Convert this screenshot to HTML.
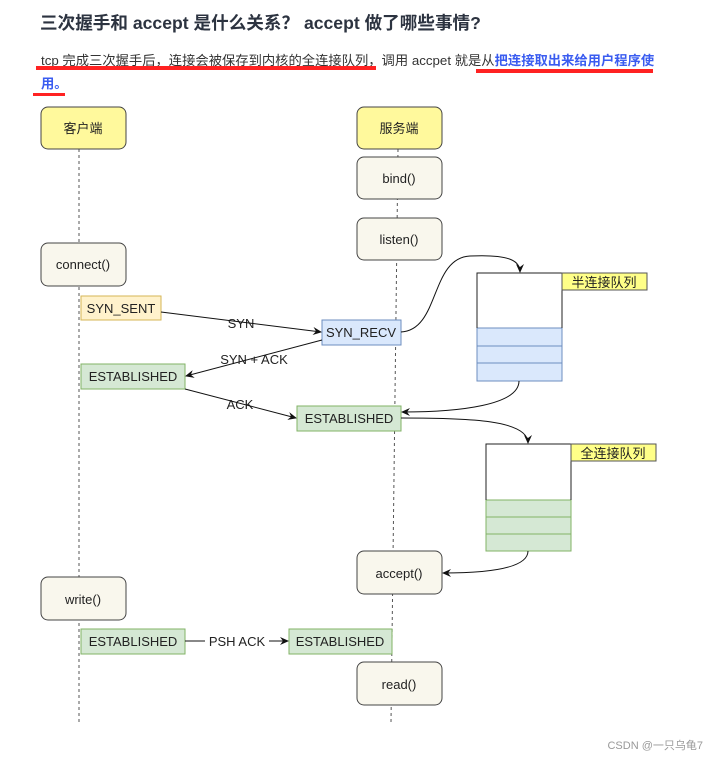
<!DOCTYPE html>
<html><head><meta charset="utf-8"><style>
body{margin:0;background:#fff;width:713px;height:758px;overflow:hidden;font-family:"Liberation Sans","Noto Sans CJK SC",sans-serif}
svg{position:absolute;left:0;top:0}
</style></head><body>
<svg width="713" height="758" xmlns="http://www.w3.org/2000/svg" font-family="Liberation Sans, Noto Sans CJK SC, sans-serif">
<defs><marker id="a" markerWidth="10" markerHeight="10" refX="8" refY="5" orient="auto" markerUnits="userSpaceOnUse"><path d="M0,1 L9,5 L0,9 L3,5z" fill="#111"/></marker></defs>
<text x="40" y="29" font-size="17.6" font-weight="bold" fill="#2c3340">三次握手和 accept 是什么关系？ accept 做了哪些事情?</text>
<text x="41" y="65" font-size="13.3" fill="#333">tcp 完成三次握手后，连接会被保存到内核的全连接队列，调用 accpet 就是从<tspan fill="#3a5cf0" font-weight="bold">把连接取出来给用户程序使</tspan></text>
<text x="41" y="88" font-size="13.3" fill="#3a5cf0" font-weight="bold">用。</text>
<rect x="36" y="66" width="340" height="4" fill="#f22"/>
<rect x="476" y="69" width="177" height="4" fill="#f22"/>
<rect x="33" y="93" width="32" height="3" fill="#f22"/>
<g stroke="#555" stroke-dasharray="3,3" stroke-width="1"><line x1="79" y1="149" x2="79" y2="722"/><line x1="398" y1="149" x2="391" y2="722"/></g>
<g stroke="#444" font-size="13" text-anchor="middle">
<rect x="41" y="107" width="85" height="42" rx="7" fill="#fff99c"/>
<rect x="357" y="107" width="85" height="42" rx="7" fill="#fff99c"/>
<rect x="357" y="157" width="85" height="42" rx="7" fill="#f9f7ed"/>
<rect x="357" y="218" width="85" height="42" rx="7" fill="#f9f7ed"/>
<rect x="41" y="243" width="85" height="43" rx="7" fill="#f9f7ed"/>
<rect x="357" y="551" width="85" height="43" rx="7" fill="#f9f7ed"/>
<rect x="41" y="577" width="85" height="43" rx="7" fill="#f9f7ed"/>
<rect x="357" y="662" width="85" height="43" rx="7" fill="#f9f7ed"/>
</g>
<rect x="81" y="296" width="80" height="24" fill="#fff2cc" stroke="#d6b656"/>
<rect x="322" y="320" width="79" height="25" fill="#dae8fc" stroke="#6c8ebf"/>
<g fill="#d5e8d4" stroke="#82b366">
<rect x="81" y="364" width="104" height="25"/><rect x="297" y="406" width="104" height="25"/>
<rect x="81" y="629" width="104" height="25"/><rect x="289" y="629" width="103" height="25"/>
<rect x="486" y="500" width="85" height="17"/><rect x="486" y="517" width="85" height="17"/><rect x="486" y="534" width="85" height="17"/>
</g>
<g fill="#dae8fc" stroke="#6c8ebf">
<rect x="477" y="328" width="85" height="18"/><rect x="477" y="346" width="85" height="17"/><rect x="477" y="363" width="85" height="18"/>
</g>
<path d="M477,328 V273 H562 V328" fill="none" stroke="#222"/>
<path d="M486,500 V444 H571 V500" fill="none" stroke="#222"/>
<rect x="562" y="273" width="85" height="17" fill="#ffff88" stroke="#555"/>
<rect x="571" y="444" width="85" height="17" fill="#ffff88" stroke="#555"/>
<g font-size="13" fill="#222" text-anchor="middle">
<text x="83" y="133">客户端</text><text x="399" y="133">服务端</text>
<text x="399" y="183">bind()</text><text x="399" y="244">listen()</text>
<text x="83" y="269">connect()</text><text x="399" y="578">accept()</text>
<text x="83" y="604">write()</text><text x="399" y="689">read()</text>
<text x="121" y="313">SYN_SENT</text><text x="361" y="337">SYN_RECV</text>
<text x="133" y="381">ESTABLISHED</text><text x="349" y="423">ESTABLISHED</text>
<text x="133" y="646">ESTABLISHED</text><text x="340" y="646">ESTABLISHED</text>
<text x="604" y="287">半连接队列</text><text x="613" y="458">全连接队列</text>
<text x="241" y="328" fill="#222">SYN</text><text x="254" y="364">SYN + ACK</text><text x="240" y="409">ACK</text>
</g>
<g stroke="#111" fill="none" marker-end="url(#a)">
<line x1="161" y1="312" x2="321" y2="332"/>
<line x1="322" y1="340" x2="186" y2="376"/>
<line x1="185" y1="389" x2="296" y2="418"/>
<line x1="185" y1="641" x2="288" y2="641"/>
<path d="M401,332 C440,330 430,258 470,256 C512,254 520,262 520,272"/>
<path d="M519,381 C519,405 460,412 402,412"/>
<path d="M401,418 C470,418 528,420 528,443"/>
<path d="M528,551 C528,570 480,573 443,573"/>
</g>
<rect x="205" y="633" width="64" height="16" fill="#fff"/>
<text x="237" y="646" font-size="13" text-anchor="middle" fill="#222">PSH ACK</text>
<text x="703" y="749" font-size="11" text-anchor="end" fill="#999">CSDN @一只乌龟7</text>
</svg>
</body></html>
